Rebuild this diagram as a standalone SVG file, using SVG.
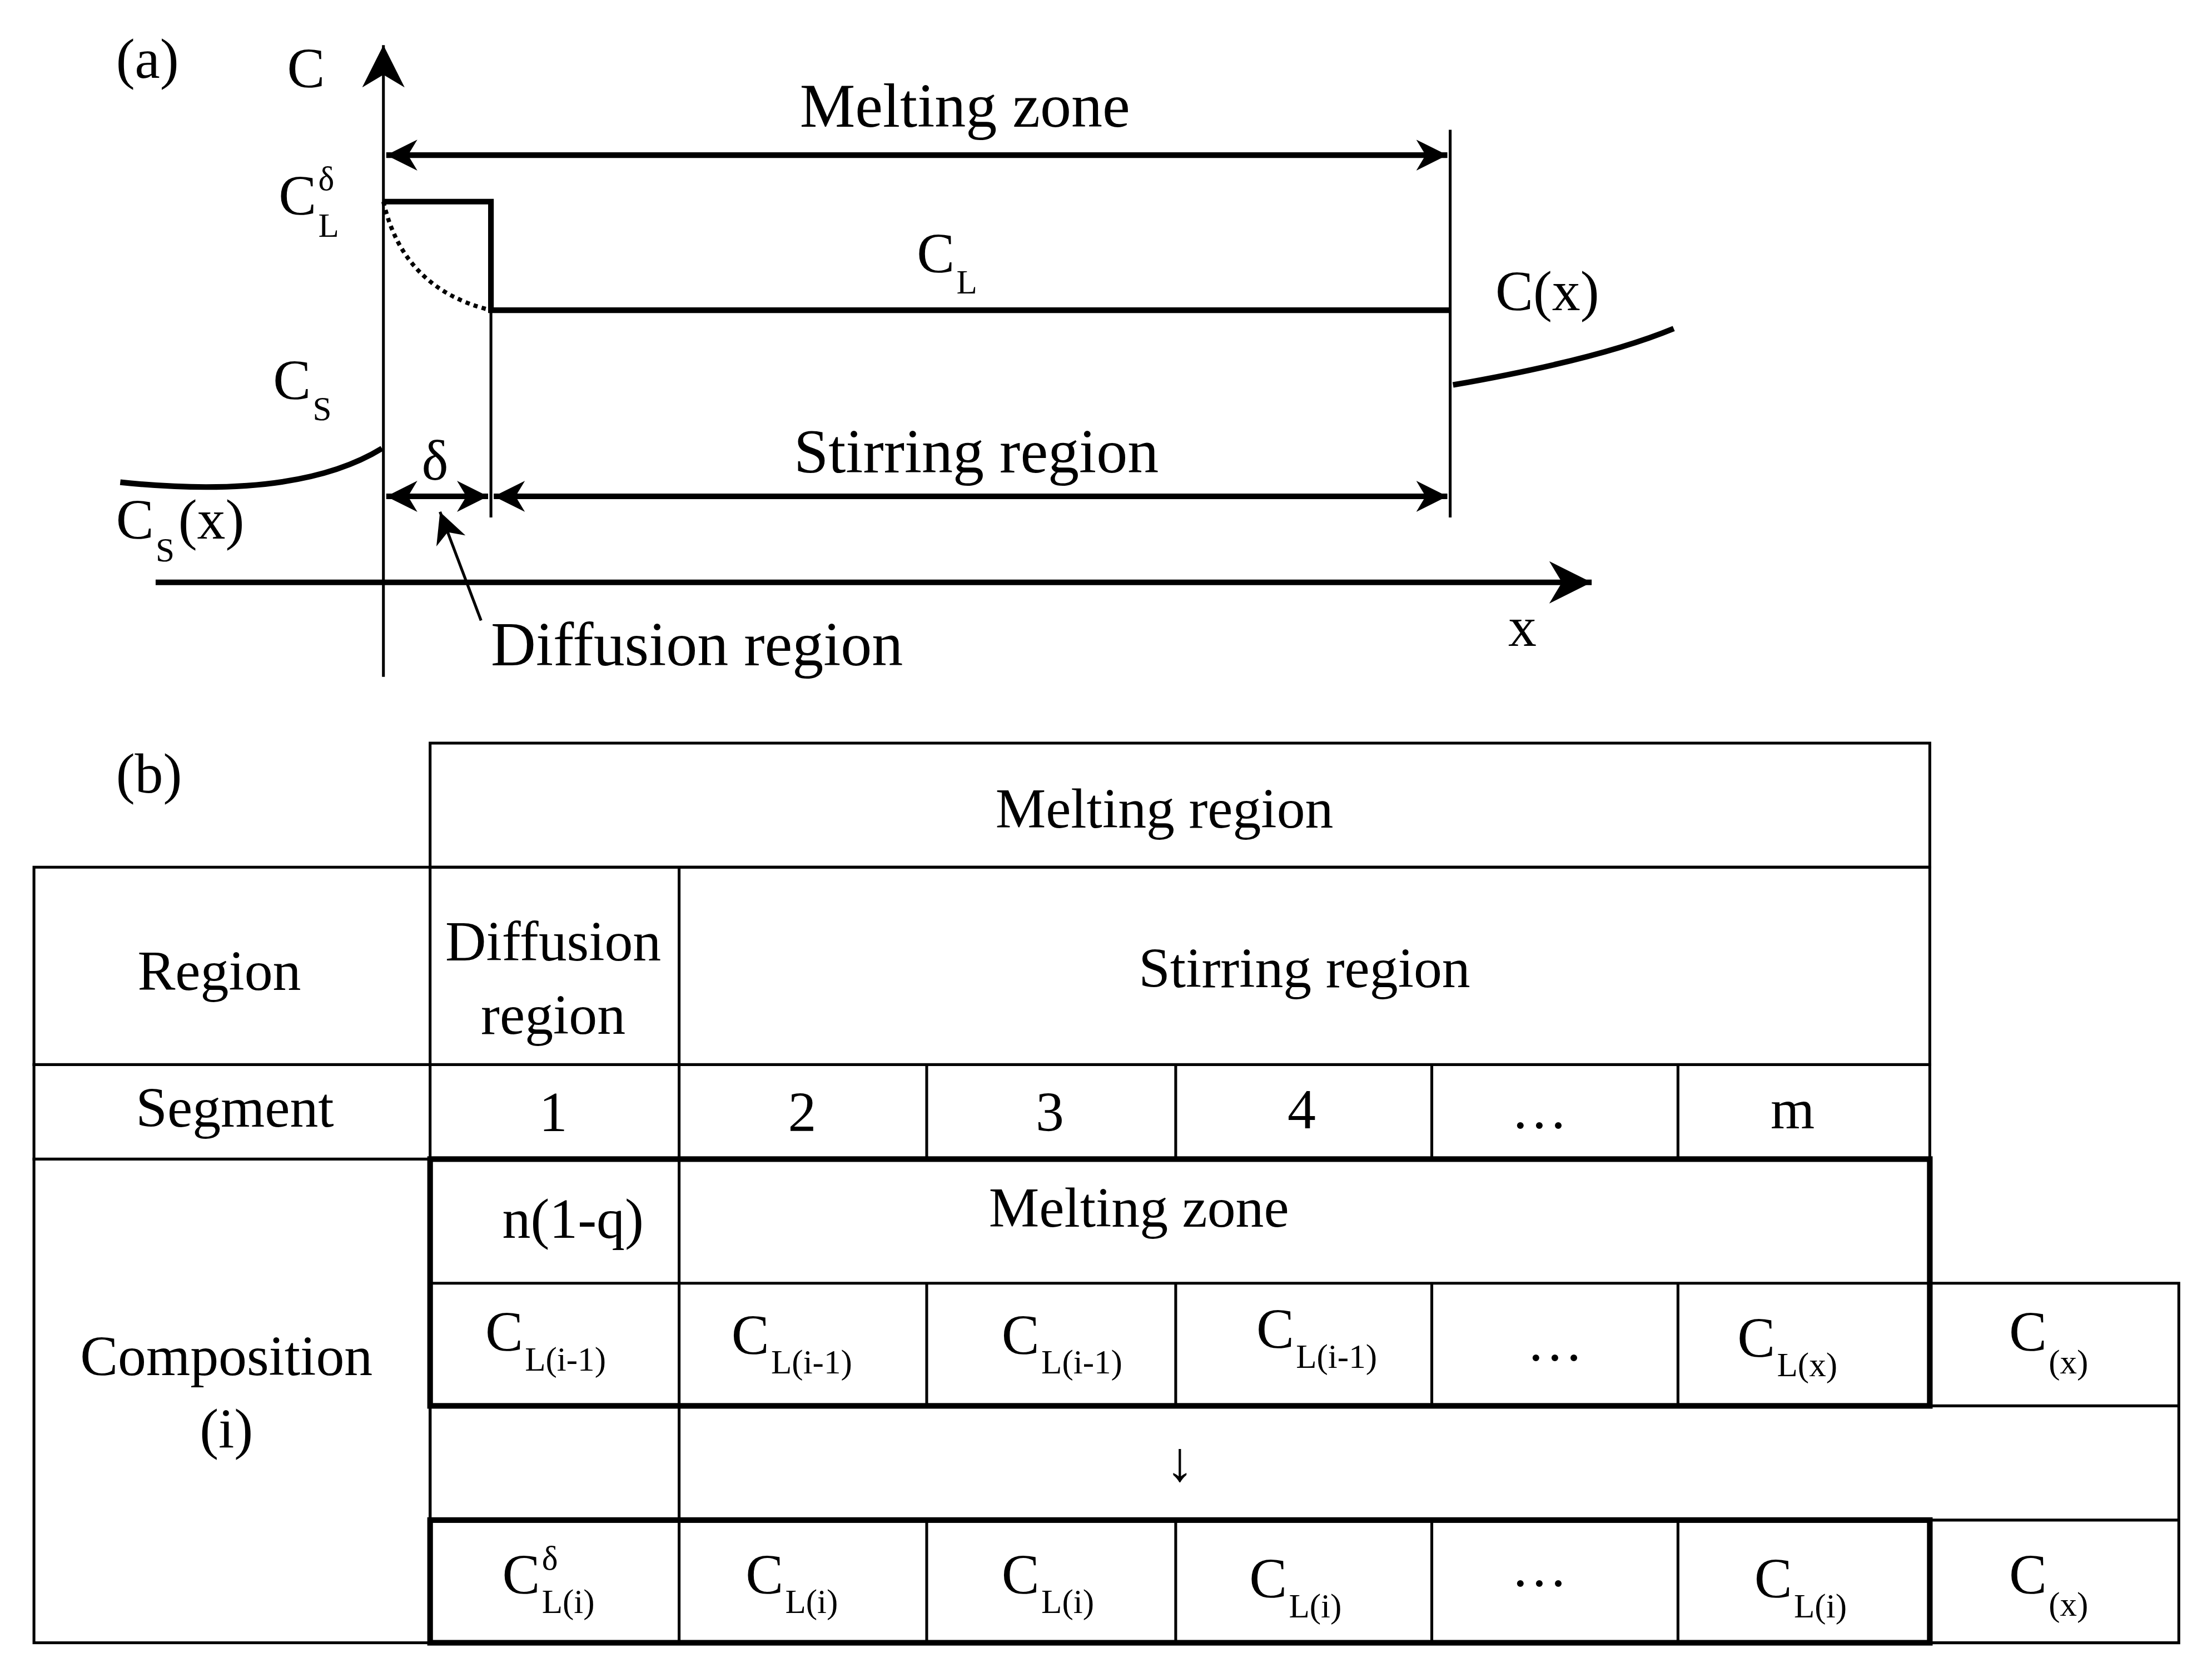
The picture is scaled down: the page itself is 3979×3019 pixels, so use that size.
<svg xmlns="http://www.w3.org/2000/svg" width="3979" height="3019" viewBox="0 0 3979 3019">
<defs>
<style>
text{font-family:"Liberation Serif","Times New Roman",serif;fill:#000}
.t{font-size:40px}
.c{text-anchor:middle}
.s{font-size:24px}
.l{stroke:#000;stroke-width:2;fill:none}
.k{stroke:#000;stroke-width:4;fill:none}
</style>
<marker id="big" viewBox="0 0 10 10" refX="10" refY="5" markerWidth="30" markerHeight="30" orient="auto" markerUnits="userSpaceOnUse"><path d="M0,0 L10,5 L0,10 L3,5 z" fill="#000"/></marker>
<marker id="mid" viewBox="0 0 10 10" refX="10" refY="5" markerWidth="22" markerHeight="22" orient="auto-start-reverse" markerUnits="userSpaceOnUse"><path d="M0,0 L10,5 L0,10 L3,5 z" fill="#000"/></marker>
</defs>
<rect width="3979" height="3019" fill="#fff"/>
<g transform="scale(2.545,2.537)">
<g id="partA">
<text class="t" x="82" y="55">(a)</text>
<text class="t" x="203" y="62">C</text>
<text class="t" x="1066" y="458">x</text>
<g id="connectors">
<line class="l" x1="271" y1="480" x2="271" y2="32" marker-end="url(#big)"/>
<line class="k" x1="110" y1="413" x2="1125" y2="413" marker-end="url(#big)"/>
<line class="k" x1="273" y1="110" x2="1023" y2="110" marker-start="url(#mid)" marker-end="url(#mid)"/>
<line class="l" x1="1025" y1="92" x2="1025" y2="367"/>
<polyline class="k" points="271,143 347,143 347,220 1025,220"/>
<line class="l" x1="347" y1="220" x2="347" y2="367"/>
<path d="M271,143 Q285,205 347,220" stroke="#000" stroke-width="3" fill="none" stroke-dasharray="3,3"/>
<path class="k" d="M1027,273 Q1130,255 1183,233"/>
<path class="k" d="M85,342 Q210,355 270,318"/>
<line class="k" x1="273" y1="352" x2="345" y2="352" marker-start="url(#mid)" marker-end="url(#mid)"/>
<line class="k" x1="349" y1="352" x2="1023" y2="352" marker-start="url(#mid)" marker-end="url(#mid)"/>
<line class="l" x1="340" y1="440" x2="311" y2="363" marker-end="url(#mid)"/>
</g>
<text class="t c" x="682" y="90" style="font-size:44px">Melting zone</text>
<text class="t" x="197" y="152">C</text><text class="s" x="225" y="135">δ</text><text class="s" x="225" y="168">L</text>
<text class="t" x="648" y="193">C</text><text class="s" x="676" y="208">L</text>
<text class="t" x="1057" y="220">C(x)</text>
<text class="t" x="193" y="283">C</text><text class="s" x="221" y="298">S</text>
<text class="t" x="298" y="340">δ</text>
<text class="t c" x="690" y="335" style="font-size:44px">Stirring region</text>
<text class="t" x="82" y="382">C</text><text class="s" x="110" y="398">S</text><text class="t" x="126" y="382">(x)</text>
<text class="t" x="347" y="472" style="font-size:44px">Diffusion region</text>
</g>
<g id="partB">
<text class="t" x="82" y="562">(b)</text>
<g class="l">
<rect x="304" y="527" width="1060" height="88"/>
<rect x="24" y="615" width="1340" height="140"/>
<line x1="304" y1="615" x2="304" y2="1165"/>
<line x1="480" y1="615" x2="480" y2="1165"/>
<rect x="24" y="755" width="1340" height="67"/>
<line x1="655" y1="755" x2="655" y2="822"/><line x1="831" y1="755" x2="831" y2="822"/><line x1="1012" y1="755" x2="1012" y2="822"/><line x1="1186" y1="755" x2="1186" y2="822"/>
<rect x="24" y="822" width="280" height="343"/>
<line x1="304" y1="910" x2="1364" y2="910"/>
<line x1="655" y1="910" x2="655" y2="997"/><line x1="831" y1="910" x2="831" y2="997"/><line x1="1012" y1="910" x2="1012" y2="997"/><line x1="1186" y1="910" x2="1186" y2="997"/>
<polyline points="1364,910 1540,910 1540,1165 1364,1165"/>
<line x1="1364" y1="997" x2="1540" y2="997"/><line x1="1364" y1="1078" x2="1540" y2="1078"/>
<line x1="655" y1="1078" x2="655" y2="1165"/><line x1="831" y1="1078" x2="831" y2="1165"/><line x1="1012" y1="1078" x2="1012" y2="1165"/><line x1="1186" y1="1078" x2="1186" y2="1165"/>
</g>
<rect class="k" x="304" y="822" width="1060" height="175"/>
<rect class="k" x="304" y="1078" width="1060" height="87"/>
<text class="t c" x="823" y="587">Melting region</text>
<text class="t c" x="155" y="702">Region</text>
<text class="t c" x="391" y="681">Diffusion</text>
<text class="t c" x="391" y="733">region</text>
<text class="t c" x="922" y="700">Stirring region</text>
<text class="t c" x="166" y="799">Segment</text>
<text class="t c" x="391" y="802">1</text><text class="t c" x="567" y="802">2</text><text class="t c" x="742" y="802">3</text><text class="t c" x="920" y="800">4</text><text class="t c" x="1088" y="800">…</text><text class="t c" x="1267" y="800">m</text>
<text class="t c" x="160" y="975">Composition</text>
<text class="t c" x="160" y="1027">(i)</text>
<text class="t c" x="405" y="878">n(1-q)</text>
<text class="t c" x="805" y="870">Melting zone</text>
<text class="t" x="343" y="958">C</text><text class="s" x="371" y="972">L(i-1)</text>
<text class="t" x="517" y="960">C</text><text class="s" x="545" y="974">L(i-1)</text>
<text class="t" x="708" y="960">C</text><text class="s" x="736" y="974">L(i-1)</text>
<text class="t" x="888" y="956">C</text><text class="s" x="916" y="970">L(i-1)</text>
<text class="t c" x="1099" y="965">…</text>
<text class="t" x="1228" y="962">C</text><text class="s" x="1256" y="976">L(x)</text>
<text class="t" x="1420" y="958">C</text><text class="s" x="1448" y="974">(x)</text>
<text class="t c" x="834" y="1050">↓</text>
<text class="t" x="355" y="1130">C</text><text class="s" x="383" y="1113">δ</text><text class="s" x="383" y="1144">L(i)</text>
<text class="t" x="527" y="1130">C</text><text class="s" x="555" y="1144">L(i)</text>
<text class="t" x="708" y="1130">C</text><text class="s" x="736" y="1144">L(i)</text>
<text class="t" x="883" y="1133">C</text><text class="s" x="911" y="1147">L(i)</text>
<text class="t c" x="1088" y="1125">…</text>
<text class="t" x="1240" y="1133">C</text><text class="s" x="1268" y="1147">L(i)</text>
<text class="t" x="1420" y="1130">C</text><text class="s" x="1448" y="1146">(x)</text>
</g>
</g>
</svg>
